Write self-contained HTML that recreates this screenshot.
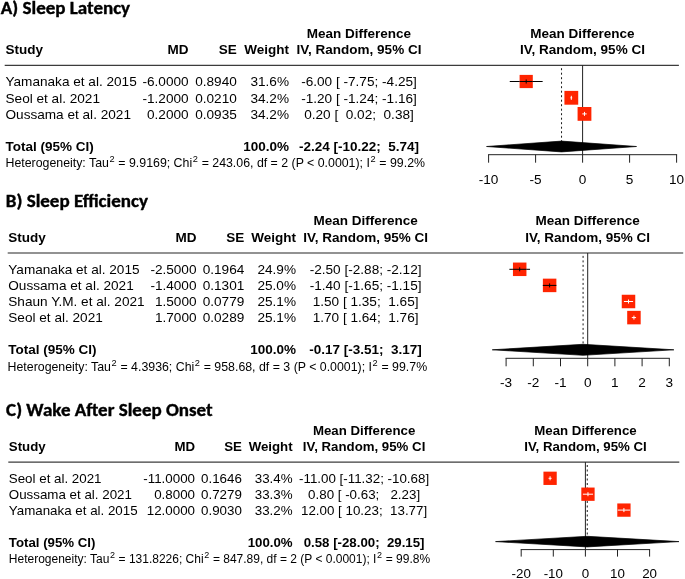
<!DOCTYPE html>
<html><head><meta charset="utf-8"><title>Forest plots</title>
<style>
html,body{margin:0;padding:0;background:#fff;}
body{width:685px;height:579px;overflow:hidden;}
svg{display:block;}
svg text{font-family:'Liberation Sans', Arial, Helvetica, sans-serif;fill:#000;white-space:pre;}
svg text.t{font-family:Carlito, Calibri, 'Liberation Sans', sans-serif;font-weight:bold;font-size:19px;stroke:#000;stroke-width:0.4px;}
</style></head>
<body>
<svg width="685" height="579" viewBox="0 0 685 579">
<rect width="685" height="579" fill="#fff"/>
<g font-size="13.6">
<text x="0.8" y="14.1" class="t" textLength="129.31" lengthAdjust="spacingAndGlyphs">A) Sleep Latency</text>
<text x="359.00" y="37.50" text-anchor="middle" font-weight="bold" font-size="13.5">Mean Difference</text>
<text x="359.00" y="54.00" text-anchor="middle" font-weight="bold" font-size="13.5">IV, Random, 95% CI</text>
<text x="582.50" y="37.50" text-anchor="middle" font-weight="bold" font-size="13.5">Mean Difference</text>
<text x="582.50" y="54.00" text-anchor="middle" font-weight="bold" font-size="13.5">IV, Random, 95% CI</text>
<text x="5.50" y="54.00" font-weight="bold" font-size="13.5">Study</text>
<text x="188.60" y="54.00" text-anchor="end" font-weight="bold" font-size="13.5">MD</text>
<text x="236.80" y="54.00" text-anchor="end" font-weight="bold" font-size="13.5">SE</text>
<text x="289.00" y="54.00" text-anchor="end" font-weight="bold" font-size="13.5">Weight</text>
<line x1="4.7" x2="678.9" y1="65.3" y2="65.3" stroke="#3c3c3c" stroke-width="1.2"/>
<text x="5.50" y="86.40">Yamanaka et al. 2015</text>
<text x="188.60" y="86.40" text-anchor="end">-6.0000</text>
<text x="236.80" y="86.40" text-anchor="end">0.8940</text>
<text x="289.00" y="86.40" text-anchor="end">31.6%</text>
<text x="359.00" y="86.40" text-anchor="middle">-6.00 [ -7.75; -4.25]</text>
<text x="5.50" y="102.80">Seol et al. 2021</text>
<text x="188.60" y="102.80" text-anchor="end">-1.2000</text>
<text x="236.80" y="102.80" text-anchor="end">0.0210</text>
<text x="289.00" y="102.80" text-anchor="end">34.2%</text>
<text x="359.00" y="102.80" text-anchor="middle">-1.20 [ -1.24; -1.16]</text>
<text x="5.50" y="119.20">Oussama et al. 2021</text>
<text x="188.60" y="119.20" text-anchor="end">0.2000</text>
<text x="236.80" y="119.20" text-anchor="end">0.0935</text>
<text x="289.00" y="119.20" text-anchor="end">34.2%</text>
<text x="359.00" y="119.20" text-anchor="middle">0.20 [  0.02;  0.38]</text>
<text x="5.50" y="150.70" font-weight="bold" font-size="13.5">Total (95% CI)</text>
<text x="289.00" y="150.70" text-anchor="end" font-weight="bold" font-size="13.5">100.0%</text>
<text x="359.00" y="150.70" text-anchor="middle" font-weight="bold" font-size="13.5">-2.24 [-10.22;  5.74]</text>
<text x="5.5" y="167.2" font-size="12.35">Heterogeneity: Tau<tspan dx="0.6" dy="-5.3" font-size="9.26">2</tspan><tspan dx="0.3" dy="5.3"> = 9.9169; Chi</tspan><tspan dx="0.6" dy="-5.3" font-size="9.26">2</tspan><tspan dx="0.3" dy="5.3"> = 243.06, df = 2 (P &lt; 0.0001); I</tspan><tspan dx="0.6" dy="-5.3" font-size="9.26">2</tspan><tspan dx="0.3" dy="5.3"> = 99.2%</tspan></text>
<path d="M488.10 154.7 H677.10" stroke="#222" stroke-width="1" fill="none"/>
<path d="M488.60 154.7 V162.7" stroke="#222" stroke-width="1" fill="none"/>
<text x="488.60" y="183.90" text-anchor="middle">-10</text>
<path d="M535.60 154.7 V162.7" stroke="#222" stroke-width="1" fill="none"/>
<text x="535.60" y="183.90" text-anchor="middle">-5</text>
<path d="M582.60 154.7 V162.7" stroke="#222" stroke-width="1" fill="none"/>
<text x="582.60" y="183.90" text-anchor="middle">0</text>
<path d="M629.60 154.7 V162.7" stroke="#222" stroke-width="1" fill="none"/>
<text x="629.60" y="183.90" text-anchor="middle">5</text>
<path d="M676.60 154.7 V162.7" stroke="#222" stroke-width="1" fill="none"/>
<text x="676.60" y="183.90" text-anchor="middle">10</text>
<path d="M582.60 65.3 V154.7" stroke="#222" stroke-width="1" fill="none"/>
<path d="M561.54 68.2 V141.1" stroke="#1a1a1a" stroke-width="1" stroke-dasharray="2 2.5" fill="none"/>
<path d="M486.53 146.5 L561.54 141.1 L636.56 146.5 L561.54 151.9 Z" fill="#000" stroke="#000" stroke-width="0.7" stroke-linejoin="miter" stroke-miterlimit="30"/>
<rect x="519.60" y="74.90" width="13.2" height="13.2" fill="#ff2400"/>
<path d="M509.75 81.5 H519.60" stroke="#000" stroke-width="1"/>
<path d="M532.80 81.5 H542.65" stroke="#000" stroke-width="1"/>
<path d="M519.60 81.5 H532.80" stroke="#000" stroke-width="1" stroke-linecap="butt"/>
<path d="M526.20 79.5 V83.5" stroke="#000" stroke-width="1"/>
<rect x="564.42" y="90.90" width="13.8" height="13.8" fill="#ff2400"/>
<path d="M570.94 97.8 H571.70" stroke="#fff" stroke-width="1" stroke-linecap="square"/>
<path d="M571.32 95.8 V99.8" stroke="#fff" stroke-width="1"/>
<rect x="577.58" y="107.00" width="13.8" height="13.8" fill="#ff2400"/>
<path d="M582.79 113.9 H586.17" stroke="#fff" stroke-width="1" stroke-linecap="square"/>
<path d="M584.48 111.9 V115.9" stroke="#fff" stroke-width="1"/>
</g>
<g font-size="13.6">
<text x="5.8" y="206.9" class="t" textLength="142.17" lengthAdjust="spacingAndGlyphs">B) Sleep Efficiency</text>
<text x="365.60" y="225.20" text-anchor="middle" font-weight="bold" font-size="13.5">Mean Difference</text>
<text x="365.60" y="241.60" text-anchor="middle" font-weight="bold" font-size="13.5">IV, Random, 95% CI</text>
<text x="587.70" y="225.20" text-anchor="middle" font-weight="bold" font-size="13.5">Mean Difference</text>
<text x="587.70" y="241.60" text-anchor="middle" font-weight="bold" font-size="13.5">IV, Random, 95% CI</text>
<text x="8.30" y="241.60" font-weight="bold" font-size="13.5">Study</text>
<text x="196.50" y="241.60" text-anchor="end" font-weight="bold" font-size="13.5">MD</text>
<text x="244.30" y="241.60" text-anchor="end" font-weight="bold" font-size="13.5">SE</text>
<text x="296.00" y="241.60" text-anchor="end" font-weight="bold" font-size="13.5">Weight</text>
<line x1="7.7" x2="683.2" y1="253" y2="253" stroke="#6e6e6e" stroke-width="1.4"/>
<text x="8.30" y="273.60">Yamanaka et al. 2015</text>
<text x="196.50" y="273.60" text-anchor="end">-2.5000</text>
<text x="244.30" y="273.60" text-anchor="end">0.1964</text>
<text x="296.00" y="273.60" text-anchor="end">24.9%</text>
<text x="365.60" y="273.60" text-anchor="middle">-2.50 [-2.88; -2.12]</text>
<text x="8.30" y="289.70">Oussama et al. 2021</text>
<text x="196.50" y="289.70" text-anchor="end">-1.4000</text>
<text x="244.30" y="289.70" text-anchor="end">0.1301</text>
<text x="296.00" y="289.70" text-anchor="end">25.0%</text>
<text x="365.60" y="289.70" text-anchor="middle">-1.40 [-1.65; -1.15]</text>
<text x="8.30" y="305.80">Shaun Y.M. et al. 2021</text>
<text x="196.50" y="305.80" text-anchor="end">1.5000</text>
<text x="244.30" y="305.80" text-anchor="end">0.0779</text>
<text x="296.00" y="305.80" text-anchor="end">25.1%</text>
<text x="365.60" y="305.80" text-anchor="middle">1.50 [ 1.35;  1.65]</text>
<text x="8.30" y="321.90">Seol et al. 2021</text>
<text x="196.50" y="321.90" text-anchor="end">1.7000</text>
<text x="244.30" y="321.90" text-anchor="end">0.0289</text>
<text x="296.00" y="321.90" text-anchor="end">25.1%</text>
<text x="365.60" y="321.90" text-anchor="middle">1.70 [ 1.64;  1.76]</text>
<text x="8.30" y="354.20" font-weight="bold" font-size="13.5">Total (95% CI)</text>
<text x="296.00" y="354.20" text-anchor="end" font-weight="bold" font-size="13.5">100.0%</text>
<text x="365.60" y="354.20" text-anchor="middle" font-weight="bold" font-size="13.5">-0.17 [-3.51;  3.17]</text>
<text x="7.6" y="370.8" font-size="12.35">Heterogeneity: Tau<tspan dx="0.6" dy="-5.3" font-size="9.26">2</tspan><tspan dx="0.3" dy="5.3"> = 4.3936; Chi</tspan><tspan dx="0.6" dy="-5.3" font-size="9.26">2</tspan><tspan dx="0.3" dy="5.3"> = 958.68, df = 3 (P &lt; 0.0001); I</tspan><tspan dx="0.6" dy="-5.3" font-size="9.26">2</tspan><tspan dx="0.3" dy="5.3"> = 99.7%</tspan></text>
<path d="M505.60 358.3 H669.80" stroke="#222" stroke-width="1" fill="none"/>
<path d="M506.10 358.3 V366.3" stroke="#222" stroke-width="1" fill="none"/>
<text x="506.10" y="386.90" text-anchor="middle">-3</text>
<path d="M533.30 358.3 V366.3" stroke="#222" stroke-width="1" fill="none"/>
<text x="533.30" y="386.90" text-anchor="middle">-2</text>
<path d="M560.50 358.3 V366.3" stroke="#222" stroke-width="1" fill="none"/>
<text x="560.50" y="386.90" text-anchor="middle">-1</text>
<path d="M587.70 358.3 V366.3" stroke="#222" stroke-width="1" fill="none"/>
<text x="587.70" y="386.90" text-anchor="middle">0</text>
<path d="M614.90 358.3 V366.3" stroke="#222" stroke-width="1" fill="none"/>
<text x="614.90" y="386.90" text-anchor="middle">1</text>
<path d="M642.10 358.3 V366.3" stroke="#222" stroke-width="1" fill="none"/>
<text x="642.10" y="386.90" text-anchor="middle">2</text>
<path d="M669.30 358.3 V366.3" stroke="#222" stroke-width="1" fill="none"/>
<text x="669.30" y="386.90" text-anchor="middle">3</text>
<path d="M587.70 253 V358.3" stroke="#222" stroke-width="1" fill="none"/>
<path d="M583.08 255.9 V344.3" stroke="#1a1a1a" stroke-width="1" stroke-dasharray="2 2.5" fill="none"/>
<path d="M492.23 349.8 L583.08 344.3 L673.92 349.8 L583.08 355.3 Z" fill="#000" stroke="#000" stroke-width="0.7" stroke-linejoin="miter" stroke-miterlimit="30"/>
<rect x="512.95" y="262.55" width="13.5" height="13.5" fill="#ff2400"/>
<path d="M509.36 269.3 H512.95" stroke="#000" stroke-width="1"/>
<path d="M526.45 269.3 H530.04" stroke="#000" stroke-width="1"/>
<path d="M512.95 269.3 H526.45" stroke="#000" stroke-width="1" stroke-linecap="butt"/>
<path d="M519.70 267.3 V271.3" stroke="#000" stroke-width="1"/>
<rect x="542.87" y="278.65" width="13.5" height="13.5" fill="#ff2400"/>
<path d="M542.82 285.4 H542.87" stroke="#000" stroke-width="1"/>
<path d="M556.37 285.4 H556.42" stroke="#000" stroke-width="1"/>
<path d="M542.87 285.4 H556.37" stroke="#000" stroke-width="1" stroke-linecap="butt"/>
<path d="M549.62 283.4 V287.4" stroke="#000" stroke-width="1"/>
<rect x="621.75" y="294.75" width="13.5" height="13.5" fill="#ff2400"/>
<path d="M624.42 301.5 H632.58" stroke="#fff" stroke-width="1" stroke-linecap="square"/>
<path d="M628.50 299.5 V303.5" stroke="#fff" stroke-width="1"/>
<rect x="627.19" y="310.85" width="13.5" height="13.5" fill="#ff2400"/>
<path d="M632.31 317.6 H635.57" stroke="#fff" stroke-width="1" stroke-linecap="square"/>
<path d="M633.94 315.6 V319.6" stroke="#fff" stroke-width="1"/>
</g>
<g font-size="13.35">
<text x="6.1" y="416" class="t" textLength="206.55" lengthAdjust="spacingAndGlyphs">C) Wake After Sleep Onset</text>
<text x="364.10" y="435.00" text-anchor="middle" font-weight="bold" font-size="13.25">Mean Difference</text>
<text x="364.10" y="451.30" text-anchor="middle" font-weight="bold" font-size="13.25">IV, Random, 95% CI</text>
<text x="585.50" y="435.00" text-anchor="middle" font-weight="bold" font-size="13.25">Mean Difference</text>
<text x="585.50" y="451.30" text-anchor="middle" font-weight="bold" font-size="13.25">IV, Random, 95% CI</text>
<text x="8.80" y="451.30" font-weight="bold" font-size="13.25">Study</text>
<text x="195.00" y="451.30" text-anchor="end" font-weight="bold" font-size="13.25">MD</text>
<text x="241.90" y="451.30" text-anchor="end" font-weight="bold" font-size="13.25">SE</text>
<text x="292.60" y="451.30" text-anchor="end" font-weight="bold" font-size="13.25">Weight</text>
<line x1="8.3" x2="679.3" y1="462.1" y2="462.1" stroke="#3c3c3c" stroke-width="1.2"/>
<text x="8.80" y="482.90">Seol et al. 2021</text>
<text x="195.00" y="482.90" text-anchor="end">-11.0000</text>
<text x="241.90" y="482.90" text-anchor="end">0.1646</text>
<text x="292.60" y="482.90" text-anchor="end">33.4%</text>
<text x="364.10" y="482.90" text-anchor="middle">-11.00 [-11.32; -10.68]</text>
<text x="8.80" y="498.80">Oussama et al. 2021</text>
<text x="195.00" y="498.80" text-anchor="end">0.8000</text>
<text x="241.90" y="498.80" text-anchor="end">0.7279</text>
<text x="292.60" y="498.80" text-anchor="end">33.3%</text>
<text x="364.10" y="498.80" text-anchor="middle">0.80 [ -0.63;   2.23]</text>
<text x="8.80" y="514.70">Yamanaka et al. 2015</text>
<text x="195.00" y="514.70" text-anchor="end">12.0000</text>
<text x="241.90" y="514.70" text-anchor="end">0.9030</text>
<text x="292.60" y="514.70" text-anchor="end">33.2%</text>
<text x="364.10" y="514.70" text-anchor="middle">12.00 [ 10.23;  13.77]</text>
<text x="8.80" y="546.60" font-weight="bold" font-size="13.25">Total (95% CI)</text>
<text x="292.60" y="546.60" text-anchor="end" font-weight="bold" font-size="13.25">100.0%</text>
<text x="364.10" y="546.60" text-anchor="middle" font-weight="bold" font-size="13.25">0.58 [-28.00;  29.15]</text>
<text x="8.8" y="562.8" font-size="12.0">Heterogeneity: Tau<tspan dx="0.6" dy="-5.2" font-size="9.00">2</tspan><tspan dx="0.3" dy="5.2"> = 131.8226; Chi</tspan><tspan dx="0.6" dy="-5.2" font-size="9.00">2</tspan><tspan dx="0.3" dy="5.2"> = 847.89, df = 2 (P &lt; 0.0001); I</tspan><tspan dx="0.6" dy="-5.2" font-size="9.00">2</tspan><tspan dx="0.3" dy="5.2"> = 99.8%</tspan></text>
<path d="M520.70 549.6 H650.10" stroke="#222" stroke-width="1" fill="none"/>
<path d="M521.20 549.6 V556.6" stroke="#222" stroke-width="1" fill="none"/>
<text x="521.20" y="577.70" text-anchor="middle">-20</text>
<path d="M553.30 549.6 V556.6" stroke="#222" stroke-width="1" fill="none"/>
<text x="553.30" y="577.70" text-anchor="middle">-10</text>
<path d="M585.40 549.6 V556.6" stroke="#222" stroke-width="1" fill="none"/>
<text x="585.40" y="577.70" text-anchor="middle">0</text>
<path d="M617.50 549.6 V556.6" stroke="#222" stroke-width="1" fill="none"/>
<text x="617.50" y="577.70" text-anchor="middle">10</text>
<path d="M649.60 549.6 V556.6" stroke="#222" stroke-width="1" fill="none"/>
<text x="649.60" y="577.70" text-anchor="middle">20</text>
<path d="M585.40 462.1 V549.6" stroke="#222" stroke-width="1" fill="none"/>
<path d="M587.26 465.0 V536.3000000000001" stroke="#1a1a1a" stroke-width="1" stroke-dasharray="2 2.5" fill="none"/>
<path d="M495.52 541.6 L587.26 536.3000000000001 L678.97 541.6 L587.26 546.9 Z" fill="#000" stroke="#000" stroke-width="0.7" stroke-linejoin="miter" stroke-miterlimit="30"/>
<rect x="543.44" y="471.65" width="13.3" height="13.3" fill="#ff2400"/>
<path d="M549.06 478.3 H551.12" stroke="#fff" stroke-width="1" stroke-linecap="square"/>
<path d="M550.09 476.3 V480.3" stroke="#fff" stroke-width="1"/>
<rect x="581.32" y="487.55" width="13.3" height="13.3" fill="#ff2400"/>
<path d="M583.38 494.2 H592.56" stroke="#fff" stroke-width="1" stroke-linecap="square"/>
<path d="M587.97 492.2 V496.2" stroke="#fff" stroke-width="1"/>
<rect x="617.27" y="503.45" width="13.3" height="13.3" fill="#ff2400"/>
<path d="M618.24 510.1 H629.60" stroke="#fff" stroke-width="1" stroke-linecap="square"/>
<path d="M623.92 508.1 V512.1" stroke="#fff" stroke-width="1"/>
</g>
</svg>
</body></html>
